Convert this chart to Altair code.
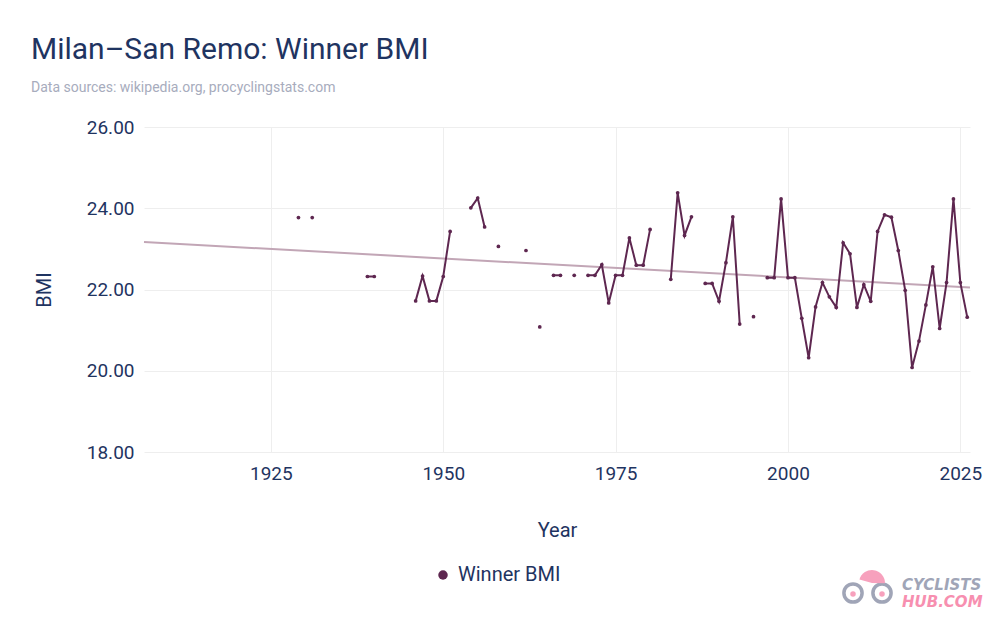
import altair as alt
import pandas as pd

# ---- data ----
years = [1929, 1931, 1939, 1940, 1946, 1947, 1948, 1949, 1950, 1951,
         1954, 1955, 1956, 1958, 1962, 1964, 1966, 1967, 1969, 1971,
         1972, 1973, 1974, 1975, 1976, 1977, 1978, 1979, 1980, 1983,
         1984, 1985, 1986, 1988, 1989, 1990, 1991, 1992, 1993, 1995,
         1997, 1998, 1999, 2000, 2001, 2002, 2003, 2004, 2005, 2006,
         2007, 2008, 2009, 2010, 2011, 2012, 2013, 2014, 2015, 2016,
         2017, 2018, 2019, 2020, 2021, 2022, 2023, 2024, 2025, 2026]
bmi = [23.77, 23.77, 22.32, 22.32, 21.72, 22.33, 21.72, 21.72, 22.32, 23.43,
       24.01, 24.25, 23.54, 23.06, 22.96, 21.08, 22.35, 22.35, 22.35, 22.35,
       22.35, 22.61, 21.67, 22.35, 22.35, 23.27, 22.60, 22.60, 23.48, 22.25,
       24.38, 23.33, 23.79, 22.15, 22.15, 21.71, 22.66, 23.79, 21.15, 21.33,
       22.29, 22.29, 24.23, 22.29, 22.29, 21.29, 20.32, 21.57, 22.17, 21.82,
       21.56, 23.15, 22.88, 21.56, 22.12, 21.71, 23.43, 23.84, 23.78, 22.96,
       21.98, 20.08, 20.73, 21.62, 22.56, 21.04, 22.17, 24.23, 22.17, 21.32]
trend_years = [1906.6, 2026.4]
trend_bmi = [23.17, 22.05]
series_name = "Winner BMI"
x_ticks = [1925, 1950, 1975, 2000, 2025]
y_ticks = [18, 20, 22, 24, 26]

# segments: break the line where years are missing
seg = []
s = 0
for i, yr in enumerate(years):
    if i > 0 and yr - years[i - 1] > 1:
        s += 1
    seg.append(s)

df = pd.DataFrame({"Year": years, "BMI": bmi, "seg": seg, "series": series_name})
tdf = pd.DataFrame({"Year": trend_years, "BMI": trend_bmi})

NAVY = "#1f3461"
PLUM = "#5e2750"
FONT = "Roboto"

xscale = alt.Scale(domain=[1906.6, 2026.4], nice=False, zero=False)
yscale = alt.Scale(domain=[18, 26], nice=False, zero=False)

xaxis = alt.Axis(values=x_ticks, format="d", title="Year", labelPadding=12,
                 titlePadding=37, grid=True)
yaxis = alt.Axis(values=y_ticks, format=".2f", title="BMI", labelPadding=10,
                 titlePadding=32, grid=True)

X = alt.X("Year:Q", scale=xscale, axis=xaxis)
Y = alt.Y("BMI:Q", scale=yscale, axis=yaxis)

trend = alt.Chart(tdf).mark_line(color="#c2a6b6", strokeWidth=2).encode(x=X, y=Y)

line = alt.Chart(df).mark_line(color=PLUM, strokeWidth=2, strokeJoin="miter").encode(
    x=X, y=Y, detail="seg:N")

points = alt.Chart(df).mark_circle(size=14, opacity=1).encode(
    x=X, y=Y,
    color=alt.Color("series:N",
                    scale=alt.Scale(domain=[series_name], range=[PLUM]),
                    legend=alt.Legend(title=None, orient="none", legendX=289, legendY=438,
                                      symbolType="circle", symbolSize=90,
                                      labelFontSize=20, labelColor=NAVY, labelFont=FONT,
                                      labelOffset=5, padding=0)))

# logo (decorative)
one = pd.DataFrame({"k": [0]})
ring1 = alt.Chart(one).mark_point(shape="circle", size=330, strokeWidth=3.5,
                                  color="#a0a5b7", opacity=1).encode(
    x=alt.value(709), y=alt.value(466))
ring2 = alt.Chart(one).mark_point(shape="circle", size=330, strokeWidth=3.5,
                                  color="#a0a5b7", opacity=1).encode(
    x=alt.value(738), y=alt.value(466))
dot1 = alt.Chart(one).mark_circle(size=30, color="#f7a1bd", opacity=1).encode(
    x=alt.value(709), y=alt.value(467))
dot2 = alt.Chart(one).mark_circle(size=30, color="#f7a1bd", opacity=1).encode(
    x=alt.value(738), y=alt.value(467))
rider = alt.Chart(one).mark_arc(color="#f7a1bd", theta=4.98, theta2=7.88,
                                outerRadius=13, innerRadius=0).encode(
    x=alt.value(728), y=alt.value(456))
txt1 = alt.Chart(one).mark_text(text="CYCLISTS", font="DejaVu Sans", fontWeight="bold",
                                fontStyle="italic", fontSize=15, align="left",
                                baseline="alphabetic", color="#a0a5b7").encode(
    x=alt.value(758), y=alt.value(463))
txt2 = alt.Chart(one).mark_text(text="HUB.COM", font="DejaVu Sans", fontWeight="bold",
                                fontStyle="italic", fontSize=15, align="left",
                                baseline="alphabetic", color="#f78fb0").encode(
    x=alt.value(758), y=alt.value(480))

chart = alt.layer(trend, line, points, ring1, ring2, dot1, dot2, rider, txt1, txt2).properties(
    width=826, height=325,
    autosize=alt.AutoSizeParams(type="none"),
    padding={"left": 144, "top": 127, "right": 30, "bottom": 165},
    background="white",
    title=alt.TitleParams(
        text="Milan–San Remo: Winner BMI",
        subtitle="Data sources: wikipedia.org, procyclingstats.com",
        anchor="start", frame="group", dx=-113, offset=23,
        font=FONT, fontSize=30, fontWeight="normal", color=NAVY,
        subtitleFont=FONT, subtitleFontSize=14, subtitleColor="#a7acbd",
        subtitlePadding=16),
).configure_view(stroke=None).configure_axis(
    domain=False, ticks=False, gridColor="#eeeeee", gridWidth=1,
    labelFont=FONT, labelFontSize=19, labelColor=NAVY,
    titleFont=FONT, titleFontSize=20, titleFontWeight="normal", titleColor=NAVY,
)

chart.save("out.html", embed_options={"renderer": "svg", "actions": False})
